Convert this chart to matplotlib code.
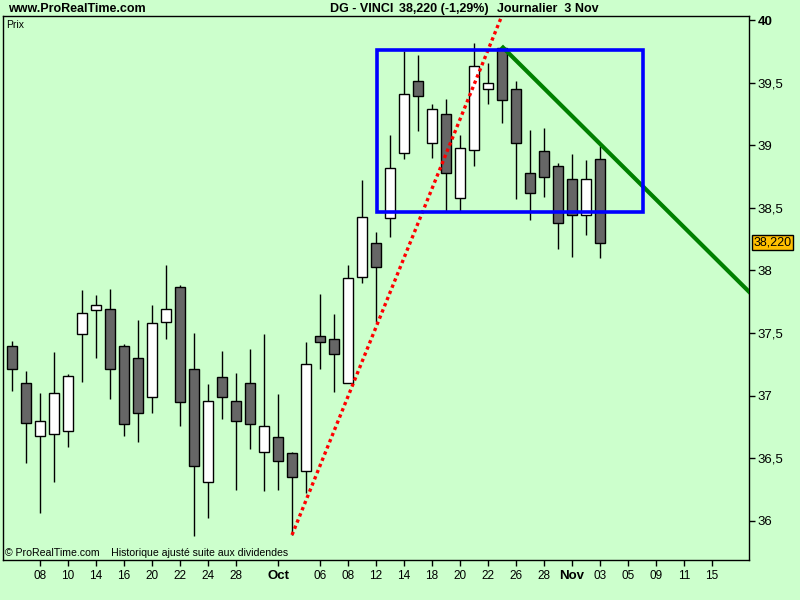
import numpy as np
import matplotlib
matplotlib.use('Agg')
import matplotlib.pyplot as plt

# daily OHLC, DG - VINCI
opens  = [37.40, 37.10, 36.68, 36.69, 36.72, 37.49, 37.68, 37.69, 37.40, 37.30,
          36.99, 37.59, 37.87, 37.21, 36.31, 37.15, 36.96, 37.10, 36.55, 36.67,
          36.54, 36.40, 37.48, 37.45, 37.10, 37.95, 38.22, 38.42, 38.94, 39.51,
          39.02, 39.25, 38.58, 38.96, 39.45, 39.78, 39.45, 38.78, 38.95, 38.83,
          38.73, 38.44, 38.89]
highs  = [37.44, 37.20, 37.02, 37.35, 37.17, 37.84, 37.80, 37.85, 37.41, 37.60,
          37.72, 38.04, 37.88, 37.50, 37.09, 37.36, 37.18, 37.37, 37.49, 37.01,
          36.55, 37.43, 37.81, 37.65, 38.04, 38.72, 38.31, 39.08, 39.75, 39.72,
          39.33, 39.37, 39.08, 39.82, 39.66, 39.78, 39.51, 39.12, 39.14, 38.86,
          38.93, 38.88, 38.99]
lows   = [37.04, 36.46, 36.06, 36.31, 36.59, 37.11, 37.30, 36.97, 36.68, 36.63,
          36.86, 37.45, 36.76, 35.88, 36.02, 36.81, 36.25, 36.57, 36.24, 36.25,
          35.89, 36.22, 37.21, 37.03, 37.10, 37.90, 37.59, 38.27, 38.89, 39.11,
          38.90, 38.47, 38.47, 38.83, 39.33, 39.18, 38.57, 38.40, 38.59, 38.17,
          38.11, 38.28, 38.10]
closes = [37.21, 36.78, 36.80, 37.02, 37.16, 37.66, 37.72, 37.21, 36.77, 36.86,
          37.58, 37.69, 36.95, 36.44, 36.96, 36.99, 36.80, 36.77, 36.76, 36.48,
          36.35, 37.25, 37.43, 37.33, 37.94, 38.43, 38.03, 38.82, 39.41, 39.39,
          39.29, 38.78, 38.98, 39.63, 39.50, 39.36, 39.02, 38.62, 38.75, 38.38,
          38.44, 38.73, 38.22]

date_labels = ['08', '10', '14', '16', '20', '22', '24', '28', 'Oct', '06', '08', '12',
               '14', '18', '20', '22', '26', '28', 'Nov', '03', '05', '09', '11', '15']
date_index = [2, 4, 6, 8, 10, 12, 14, 16, 19, 22, 24, 26,
              28, 30, 32, 34, 36, 38, 40, 42, 44, 46, 48, 50]

price_ticks = [36, 36.5, 37, 37.5, 38, 38.5, 39, 39.5, 40]

# user drawn objects
red_line = ([20.0, 35.3], [35.887, 40.12])
green_line = ([35.07, 53.0], [39.78, 37.79])
box_x = [26.09, 45.09]
box_y = [38.464, 39.758]
last_price = 38.22

bg = '#ccffcc'
plt.rcParams['font.family'] = ['Liberation Sans Narrow', 'Liberation Sans', 'DejaVu Sans']

fig = plt.figure(figsize=(8, 6), dpi=100, facecolor=bg)
ax = fig.add_axes([3 / 800, 40 / 600, 746 / 800, 544 / 600])
ax.set_facecolor(bg)

x = np.arange(len(opens))
o = np.array(opens)
c = np.array(closes)
up = c >= o

ax.vlines(x, lows, highs, color='black', linewidth=1.0, zorder=2)
ax.bar(x[up], (c - o)[up], bottom=o[up], width=0.72, color='white',
       edgecolor='black', linewidth=1.0, zorder=3)
ax.bar(x[~up], (o - c)[~up], bottom=c[~up], width=0.72, color='#666666',
       edgecolor='black', linewidth=1.0, zorder=3)

ax.plot(red_line[0], red_line[1], color='#ff0000', linestyle=(0, (1, 1.0)),
        linewidth=2.4, zorder=4)
ax.plot(green_line[0], green_line[1], color='#008000', linewidth=3, zorder=4)
ax.add_patch(plt.Rectangle((box_x[0], box_y[0]), box_x[1] - box_x[0], box_y[1] - box_y[0],
                           fill=False, edgecolor='#0000ff', linewidth=2.6, zorder=5))

ax.set_xlim(-0.643, 52.64)
ax.set_ylim(35.687, 40.032)

for s in ax.spines.values():
    s.set_color('black')
    s.set_linewidth(1.0)

ax.set_xticks(date_index)
ax.set_xticklabels(date_labels, fontsize=8.5)
for lbl in ax.get_xticklabels():
    if lbl.get_text() in ('Oct', 'Nov'):
        lbl.set_fontweight('bold')
        lbl.set_fontsize(9.5)
ax.tick_params(axis='x', length=4, width=1, pad=3, colors='black')

ax.yaxis.tick_right()
ax.set_yticks(price_ticks)
ax.set_yticklabels([('%g' % v).replace('.', ',') for v in price_ticks], fontsize=9.5)
ax.get_yticklabels()[-1].set_fontweight('bold')
ax.tick_params(axis='y', length=4, width=1, pad=2, colors='black')

# last price tag
ax.text(1.0065, last_price, ('%.3f' % last_price).replace('.', ','), transform=ax.get_yaxis_transform(),
        ha='left', va='center', fontsize=9, clip_on=False,
        bbox=dict(boxstyle='square,pad=0.12', facecolor='#ffc000', edgecolor='black', linewidth=1))

ax.text(0.004, 0.993, 'Prix', transform=ax.transAxes, ha='left', va='top', fontsize=7.5)
ax.text(0.003, 0.004, '\u00a9 ProRealTime.com    Historique ajusté suite aux dividendes',
        transform=ax.transAxes, ha='left', va='bottom', fontsize=7.6)

ty = 1 - 9 / 600
fig.text(8 / 800, ty, 'www.ProRealTime.com', ha='left', va='center',
         fontsize=9, fontweight='bold')
fig.text(330 / 800, ty, 'DG - VINCI', ha='left', va='center', fontsize=9, fontweight='bold')
fig.text(399 / 800, ty, '38,220 (-1,29%)', ha='left', va='center', fontsize=9, fontweight='bold')
fig.text(497 / 800, ty, 'Journalier  3 Nov', ha='left', va='center', fontsize=9, fontweight='bold')

fig.savefig('out.png', dpi=100, facecolor=bg)
